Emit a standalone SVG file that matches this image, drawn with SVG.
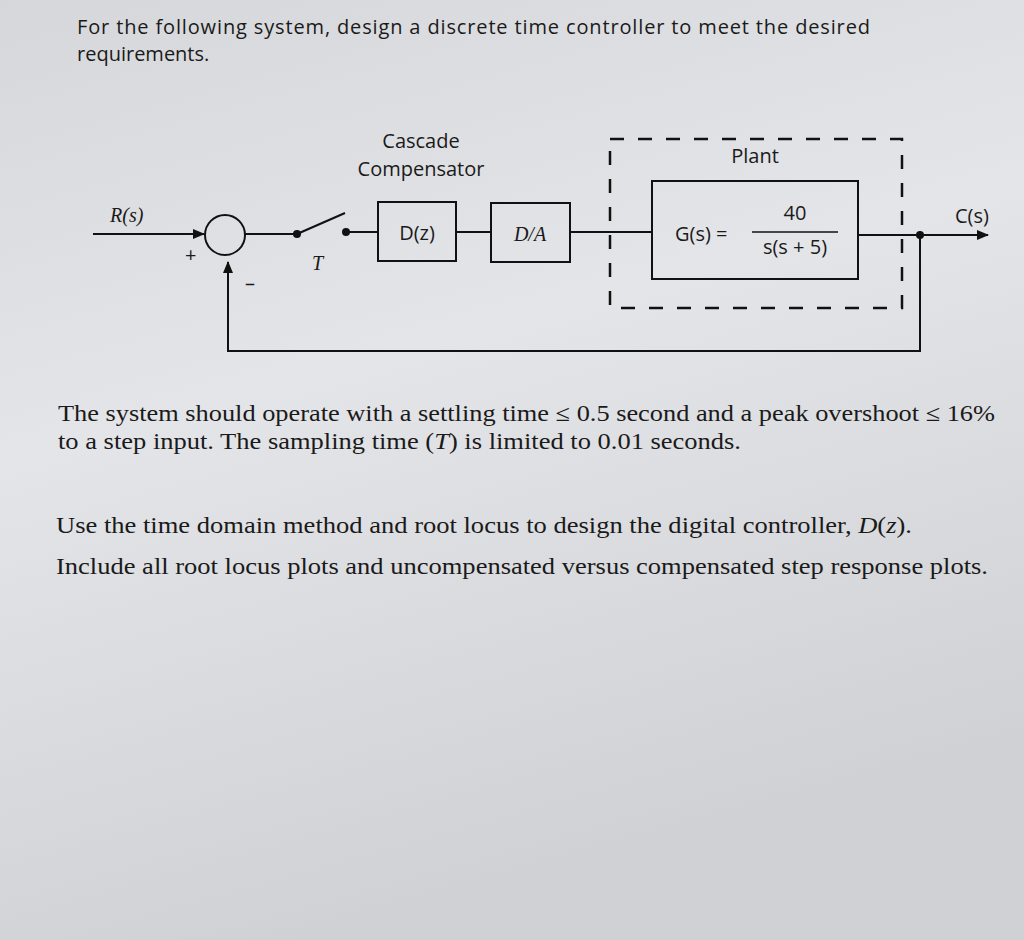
<svg xmlns="http://www.w3.org/2000/svg" width="1024" height="940" viewBox="0 0 1024 940">
<defs>
<linearGradient id="bg" x1="0" y1="0" x2="0.3" y2="1">
<stop offset="0" stop-color="#d6d7da"/><stop offset="0.45" stop-color="#e4e5e8"/><stop offset="1" stop-color="#d0d1d5"/>
</linearGradient>
<marker id="ar" markerWidth="12" markerHeight="10" refX="11" refY="5" orient="auto" markerUnits="userSpaceOnUse"><path d="M0,0 L12,5 L0,10 z" fill="#111"/></marker>
<style>
.s{font-family:"Open Sans","Noto Sans",sans-serif;font-size:20px;fill:#1a1a1a}
.m{font-family:"Liberation Serif",serif;font-size:23px;fill:#1a1a1a}
.i{font-family:"Liberation Serif",serif;font-style:italic;font-size:20px;fill:#1a1a1a}
.l{stroke:#111;stroke-width:2;fill:none}
.b{stroke:#111;stroke-width:2;fill:none}
</style>
</defs>
<rect width="1024" height="940" fill="url(#bg)"/>
<text class="s" x="77" y="34" textLength="793">For the following system, design a discrete time controller to meet the desired</text>
<text class="s" x="77" y="61">requirements.</text>
<g id="labels">
<text class="s" x="421" y="148" text-anchor="middle">Cascade</text>
<text class="s" x="421" y="176" text-anchor="middle">Compensator</text>
<text class="s" x="755" y="163" text-anchor="middle">Plant</text>
<text class="i" x="110" y="222">R(s)</text>
<text class="s" x="185" y="262" font-size="18">+</text>
<text class="s" x="245" y="290" font-size="18">–</text>
<text class="i" x="312" y="270">T</text>
<text class="s" x="955" y="223" font-size="18">C(s)</text>
</g>
<g id="plantframe"><rect x="610" y="139" width="292" height="169" fill="none" stroke="#111" stroke-width="2.5" stroke-dasharray="14,14"/></g>
<g id="sum"><circle cx="225" cy="235" r="20" class="b" fill="none"/></g>
<g id="switch">
<circle cx="297" cy="234" r="4" fill="#111"/><circle cx="346" cy="232" r="4" fill="#111"/>
<line x1="297" y1="234" x2="345" y2="213" class="l"/>
</g>
<g id="Dz"><rect x="378" y="202" width="78" height="59" class="b"/><text class="s" x="417" y="240" text-anchor="middle">D(z)</text></g>
<g id="DA"><rect x="491" y="203" width="79" height="59" class="b"/><text class="i" x="530" y="241" text-anchor="middle">D/A</text></g>
<g id="G"><rect x="652" y="181" width="206" height="98" class="b"/>
<text class="s" x="675" y="241">G(s) =</text>
<text class="s" x="795" y="220" text-anchor="middle" font-size="19">40</text>
<line x1="752" y1="232" x2="838" y2="232" stroke="#111" stroke-width="1.5"/>
<text class="s" x="795" y="254" text-anchor="middle">s(s + 5)</text></g>
<g id="connectors">
<line x1="93" y1="234" x2="204" y2="234" class="l" marker-end="url(#ar)"/>
<line x1="245" y1="234" x2="297" y2="234" class="l"/>
<line x1="346" y1="232" x2="378" y2="232" class="l"/>
<line x1="456" y1="232" x2="491" y2="232" class="l"/>
<line x1="570" y1="232" x2="652" y2="232" class="l"/>
<line x1="858" y1="235" x2="988" y2="235" class="l" marker-end="url(#ar)"/>
<circle cx="920" cy="235" r="4" fill="#111"/>
<polyline points="920,235 920,351 228,351 228,262" class="l" marker-end="url(#ar)"/>
</g>
<text class="m" x="58" y="421" textLength="937" lengthAdjust="spacingAndGlyphs">The system should operate with a settling time ≤ 0.5 second and a peak overshoot ≤ 16%</text>
<text class="m" x="58" y="449" textLength="683" lengthAdjust="spacingAndGlyphs">to a step input.  The sampling time (<tspan font-style="italic">T</tspan>) is limited to 0.01 seconds.</text>
<text class="m" x="56" y="533" textLength="856" lengthAdjust="spacingAndGlyphs">Use the time domain method and root locus to design the digital controller, <tspan font-style="italic">D</tspan>(<tspan font-style="italic">z</tspan>).</text>
<text class="m" x="56" y="574" textLength="932" lengthAdjust="spacingAndGlyphs">Include all root locus plots and uncompensated versus compensated step response plots.</text>
</svg>
